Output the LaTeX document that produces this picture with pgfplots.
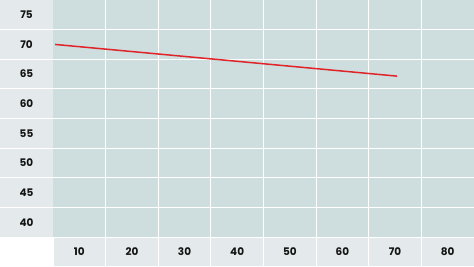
\documentclass[border=0pt]{standalone}
\usepackage{fontspec}
\setmainfont{Poppins}[BoldFont={Poppins Bold}]
\usepackage{pgfplots}
\pgfplotsset{compat=1.18}
\definecolor{plotbg}{HTML}{CEDDDD}
\definecolor{labelbg}{HTML}{E4EAEB}
\definecolor{linered}{HTML}{E0242A}
\definecolor{txt}{HTML}{141414}
\begin{document}
\begin{tikzpicture}[x=1bp,y=1bp]
\useasboundingbox (0,0) rectangle (474,266);
\foreach \k in {0,...,7} {
  \fill[labelbg] (0,{29+\k*29.625+0.5}) rectangle (52.5,{29+(\k+1)*29.625-0.5});
  \fill[labelbg] ({53+\k*52.625+0.5},0) rectangle ({53+(\k+1)*52.625-0.5},28.5);
}
\begin{axis}[
  at={(53bp,29bp)}, anchor=south west,
  scale only axis, width=421bp, height=237bp,
  xmin=5, xmax=85, ymin=37.5, ymax=77.5,
  axis line style={draw=none},
  axis background/.style={fill=plotbg},
  xtick={10,20,...,80}, ytick={40,45,...,75},
  minor xtick={15,25,...,75}, minor ytick={42.5,47.5,...,72.5},
  grid=minor, minor grid style={white, line width=1.1bp},
  major tick length=0pt, minor tick length=0pt,
  /pgf/number format/assume math mode=true,
  ticklabel style={font=\fontsize{10.5}{12}\selectfont\bfseries, text=txt},
  yticklabel style={anchor=center, xshift=-26.5bp},
  xticklabel style={anchor=center, yshift=-14.5bp},
  clip=false,
]
\addplot[linered, line width=1.5bp] coordinates {(5.4,70.0) (70.4,64.65)};
\end{axis}
\end{tikzpicture}
\end{document}
